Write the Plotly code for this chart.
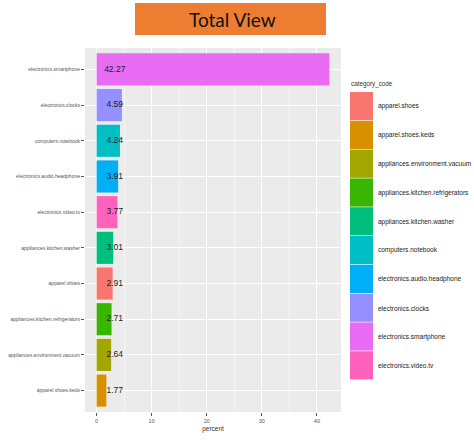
import plotly.graph_objects as go

# data, bottom to top as drawn
categories = ["apparel.shoes.keds", "appliances.environment.vacuum",
              "appliances.kitchen.refrigerators", "apparel.shoes",
              "appliances.kitchen.washer", "electronics.video.tv",
              "electronics.audio.headphone", "computers.notebook",
              "electronics.clocks", "electronics.smartphone"]
percent = [1.77, 2.64, 2.71, 2.91, 3.01, 3.77, 3.91, 4.24, 4.59, 42.27]

# legend order (alphabetical) and ggplot hue colours
legend_codes = ["apparel.shoes", "apparel.shoes.keds", "appliances.environment.vacuum",
                "appliances.kitchen.refrigerators", "appliances.kitchen.washer",
                "computers.notebook", "electronics.audio.headphone",
                "electronics.clocks", "electronics.smartphone", "electronics.video.tv"]
legend_colors = ["#F8766D", "#D89000", "#A3A500", "#39B600", "#00BF7D",
                 "#00BFC4", "#00B0F6", "#9590FF", "#E76BF3", "#FF62BC"]

color_of = dict(zip(legend_codes, legend_colors))
LABEL_X = 3.3

W, H = 474, 444
ML, MR, MT, MB = 85, 133, 48, 32
PW, PH = W - ML - MR, H - MT - MB


def px_x(p):
    return (p - ML) / PW


def px_y(p):
    return (H - MB - p) / PH


fig = go.Figure()
fig.add_trace(go.Bar(
    x=percent, y=categories, orientation="h", width=0.9,
    marker=dict(color=[color_of[c] for c in categories], line=dict(width=0)),
    showlegend=False, hoverinfo="x+y"))
fig.add_trace(go.Scatter(
    x=[LABEL_X] * len(categories), y=categories, mode="text",
    text=[f"{v:.2f}" for v in percent],
    textfont=dict(size=8.5, color="#222222", family="Liberation Sans"),
    showlegend=False, hoverinfo="skip"))

shapes = []
annotations = []

# title box
shapes.append(dict(type="rect", xref="paper", yref="paper",
                   x0=px_x(135), x1=px_x(326), y0=px_y(35), y1=px_y(3),
                   fillcolor="#ED7D31", line=dict(width=0), layer="above"))
annotations.append(dict(text="Total View", xref="paper", yref="paper",
                        x=px_x(232), y=px_y(19), showarrow=False,
                        font=dict(size=19, color="#111111", family="Lato"),
                        xanchor="center", yanchor="middle"))

# legend built by hand so the keys are tall like ggplot's
annotations.append(dict(text="category_code", xref="paper", yref="paper",
                        x=px_x(349), y=px_y(84), showarrow=False,
                        font=dict(size=6.3, color="#333333", family="Liberation Sans"),
                        xanchor="left", yanchor="middle"))
key_top, key_h = 92, 28.8
for i, (code, col) in enumerate(zip(legend_codes, legend_colors)):
    t = key_top + i * key_h
    shapes.append(dict(type="rect", xref="paper", yref="paper",
                       x0=px_x(350), x1=px_x(373), y0=px_y(t + key_h - 0.6), y1=px_y(t),
                       fillcolor=col, line=dict(width=0)))
    annotations.append(dict(text=code, xref="paper", yref="paper",
                            x=px_x(376), y=px_y(t + key_h / 2), showarrow=False,
                            font=dict(size=6.5, color="#222222", family="Liberation Sans"),
                            xanchor="left", yanchor="middle"))

fig.update_layout(
    width=W, height=H,
    margin=dict(l=ML, r=MR, t=MT, b=MB, autoexpand=False),
    paper_bgcolor="white", plot_bgcolor="#EBEBEB",
    shapes=shapes, annotations=annotations,
    xaxis=dict(range=[-2.11, 44.38], tickvals=[0, 10, 20, 30, 40], automargin=False,
               showgrid=True, gridcolor="white", gridwidth=1, zeroline=False,
               minor=dict(dtick=5, tick0=0, showgrid=True, gridcolor="#F5F5F5", gridwidth=0.5),
               ticks="outside", ticklen=3, tickcolor="#555555",
               tickfont=dict(size=5.5, color="#555555", family="Liberation Sans"),
               title=dict(text="percent", standoff=3,
                          font=dict(size=6.5, color="#333333", family="Liberation Sans"))),
    yaxis=dict(categoryorder="array", categoryarray=categories, automargin=False,
               range=[-0.6, len(categories) - 0.4],
               showgrid=True, gridcolor="white", gridwidth=1, zeroline=False,
               ticks="outside", ticklen=3, tickcolor="#555555",
               tickfont=dict(size=5, color="#555555", family="Liberation Sans")),
)

# drop the browser's default 8px body margin so the figure fills the window
fig.write_html("out.html", config={"displayModeBar": False},
               post_script="document.body.style.margin='0';")
